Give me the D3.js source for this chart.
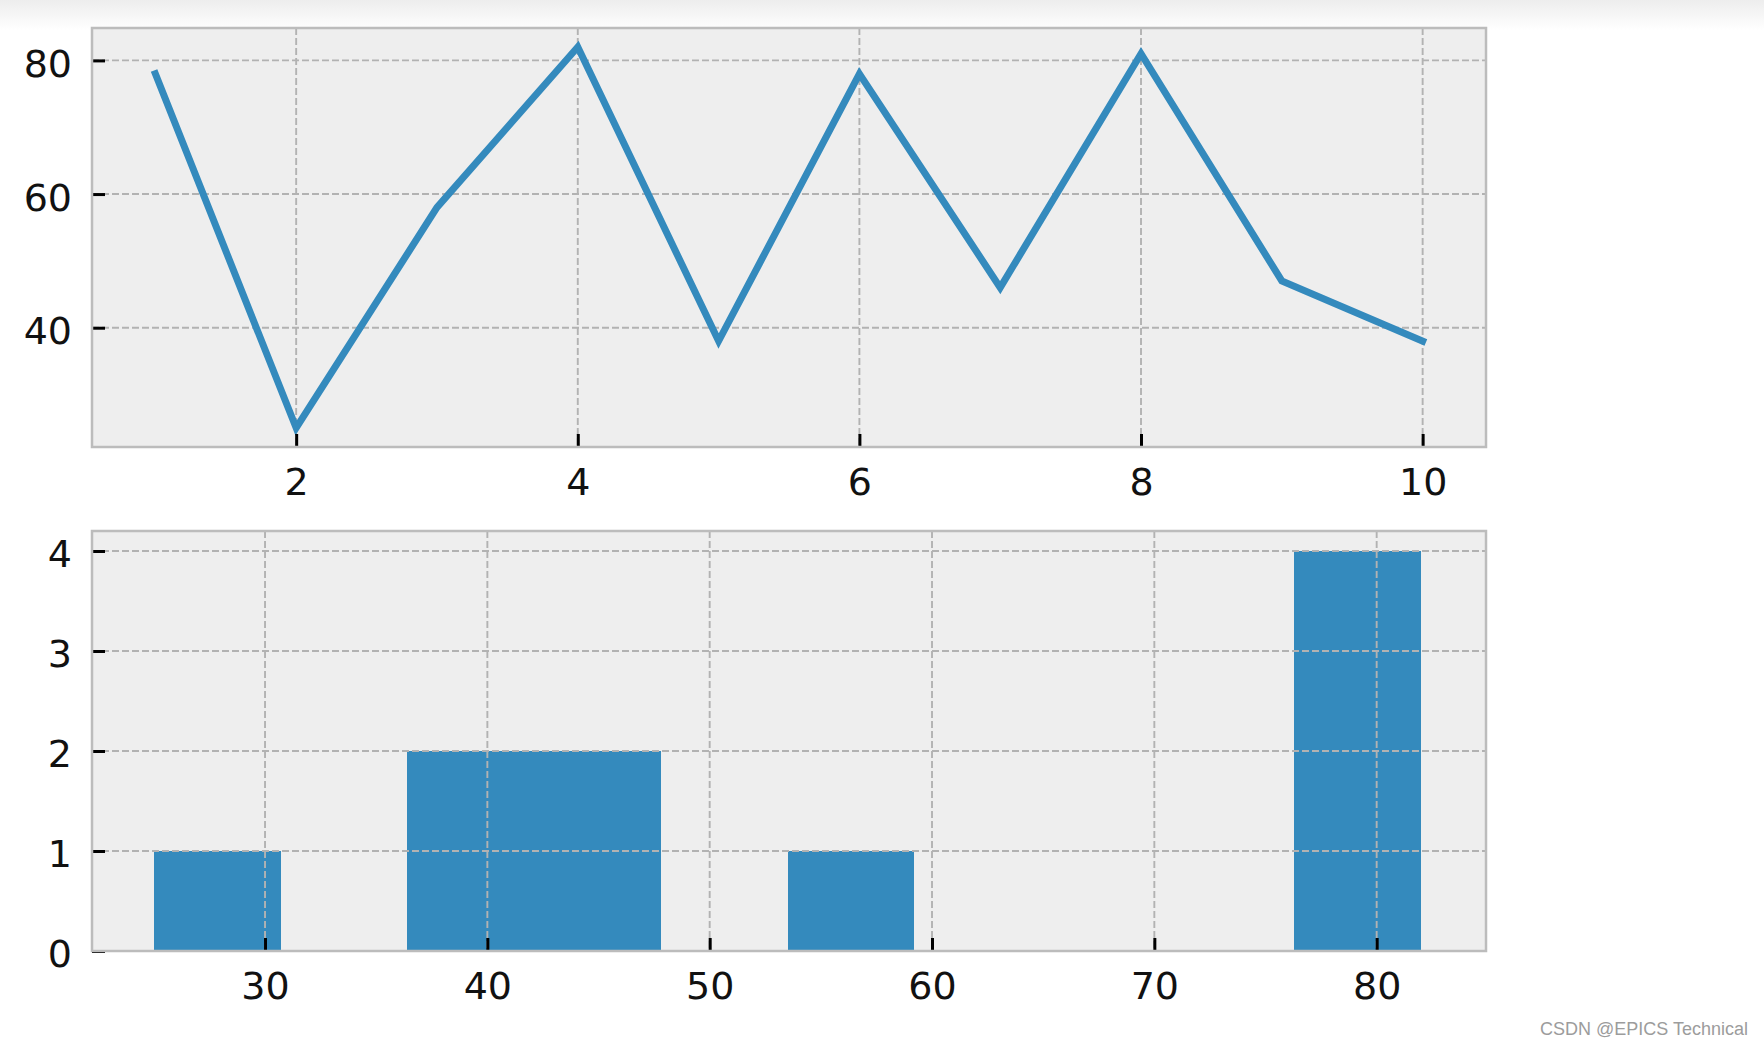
<!DOCTYPE html>
<html><head><meta charset="utf-8">
<script src="https://cdn.jsdelivr.net/npm/d3@7"></script>
<style>html,body{margin:0;padding:0;background:#fff;}svg{display:block;}</style>
</head><body>
<svg id="chart" width="1764" height="1045"></svg>
<script>
// ---- data ----
const lineX = [1, 2, 3, 4, 5, 6, 7, 8, 9, 10];
const lineY = [78, 25, 58, 82, 38, 78, 46, 81, 47, 38];
const lineXTicks = [2, 4, 6, 8, 10];
const lineYTicks = [40, 60, 80];
const binEdges = [25, 30.7, 36.4, 42.1, 47.8, 53.5, 59.2, 64.9, 70.6, 76.3, 82];
const binCounts = [1, 0, 2, 2, 0, 1, 0, 0, 0, 4];
const histXTicks = [30, 40, 50, 60, 70, 80];
const histYTicks = [0, 1, 2, 3, 4];
const watermark = "CSDN @EPICS Technical";

// ---- style ----
const W = 1764, H = 1045;
const BLUE = "#348ABD", BG = "#eeeeee", GRID = "#b2b2b2", EDGE = "#bcbcbc";
const FONT = "'DejaVu Sans', sans-serif", FS = 38;

const svg = d3.select("#chart");
const defs = svg.append("defs");
const grad = defs.append("linearGradient").attr("id", "topfade")
  .attr("x1", 0).attr("y1", 0).attr("x2", 0).attr("y2", 1);
grad.append("stop").attr("offset", "0%").attr("stop-color", "#ededed");
grad.append("stop").attr("offset", "100%").attr("stop-color", "#ffffff");
svg.append("rect").attr("x", 0).attr("y", 0).attr("width", W).attr("height", 30)
  .attr("fill", "url(#topfade)");

const L = 92, R = 1486;
const panels = {
  top: {t: 28, b: 447},
  bot: {t: 531, b: 951}
};

function panel(p, xs, ys, xt, yt, drawMarks) {
  const g = svg.append("g");
  g.append("rect").attr("x", L).attr("y", p.t).attr("width", R - L).attr("height", p.b - p.t)
    .attr("fill", BG);
  const marks = g.append("g");
  const grid = g.append("g");
  drawMarks.fn(marks);
  grid.selectAll("line.vx").data(xt).join("line")
    .attr("x1", d => xs(d)).attr("x2", d => xs(d)).attr("y1", p.t).attr("y2", p.b)
    .attr("stroke", GRID).attr("stroke-width", 1.9).attr("stroke-dasharray", "7,3");
  grid.selectAll("line.hy").data(yt).join("line")
    .attr("x1", L).attr("x2", R).attr("y1", d => ys(d)).attr("y2", d => ys(d))
    .attr("stroke", GRID).attr("stroke-width", 1.9).attr("stroke-dasharray", "7,3");
  if (drawMarks.lineOnTop) marks.raise();

  const ax = g.append("g").attr("transform", `translate(0,${p.b})`)
    .call(d3.axisBottom(xs).tickValues(xt).tickSizeInner(-13).tickSizeOuter(0).tickPadding(21)
      .tickFormat(d3.format("d")));
  const ay = g.append("g").attr("transform", `translate(${L},0)`)
    .call(d3.axisLeft(ys).tickValues(yt).tickSizeInner(-13).tickSizeOuter(0).tickPadding(20)
      .tickFormat(d3.format("d")));
  [ax, ay].forEach(a => {
    a.select(".domain").remove();
    a.selectAll(".tick line").attr("stroke", "#000").attr("stroke-width", 3);
    a.selectAll(".tick text").attr("fill", "#111").style("font-family", FONT)
      .style("font-size", FS + "px");
  });
  ay.selectAll(".tick text").attr("dy", "0.42em");
  g.append("rect").attr("x", L).attr("y", p.t).attr("width", R - L).attr("height", p.b - p.t)
    .attr("fill", "none").attr("stroke", EDGE).attr("stroke-width", 2.5);
}

// ---- top: line ----
const x1 = d3.scaleLinear().domain([0.55, 10.45]).range([L, R]);
const y1 = d3.scaleLinear().domain([22.15, 84.85]).range([panels.top.b, panels.top.t]);
panel(panels.top, x1, y1, lineXTicks, lineYTicks, {
  lineOnTop: true,
  fn: g => {
    const line = d3.line().x((d, i) => x1(lineX[i])).y(d => y1(d));
    g.append("path").datum(lineY).attr("d", line).attr("fill", "none")
      .attr("stroke", BLUE).attr("stroke-width", 7).attr("stroke-linejoin", "miter")
      .attr("stroke-linecap", "square");
  }
});

// ---- bottom: histogram ----
const x2 = d3.scaleLinear().domain([22.15, 84.85]).range([L - 1.5, R - 1.5]);
const y2 = d3.scaleLinear().domain([0, 4.2]).range([panels.bot.b, panels.bot.t]);
panel(panels.bot, x2, y2, histXTicks, histYTicks, {
  lineOnTop: false,
  fn: g => {
    g.selectAll("rect").data(binCounts).join("rect")
      .attr("x", (d, i) => Math.round(x2(binEdges[i])))
      .attr("width", (d, i) => Math.round(x2(binEdges[i + 1])) - Math.round(x2(binEdges[i])))
      .attr("y", d => y2(d))
      .attr("height", d => y2(0) - y2(d))
      .attr("fill", BLUE)
      .attr("shape-rendering", "crispEdges");
  }
});

// ---- watermark ----
svg.append("text").attr("x", 1748).attr("y", 1035).attr("text-anchor", "end")
  .style("font-family", "'Liberation Sans', Arial, sans-serif").style("font-size", "18px")
  .attr("fill", "#9c9c9c").text(watermark);
</script>
</body></html>
